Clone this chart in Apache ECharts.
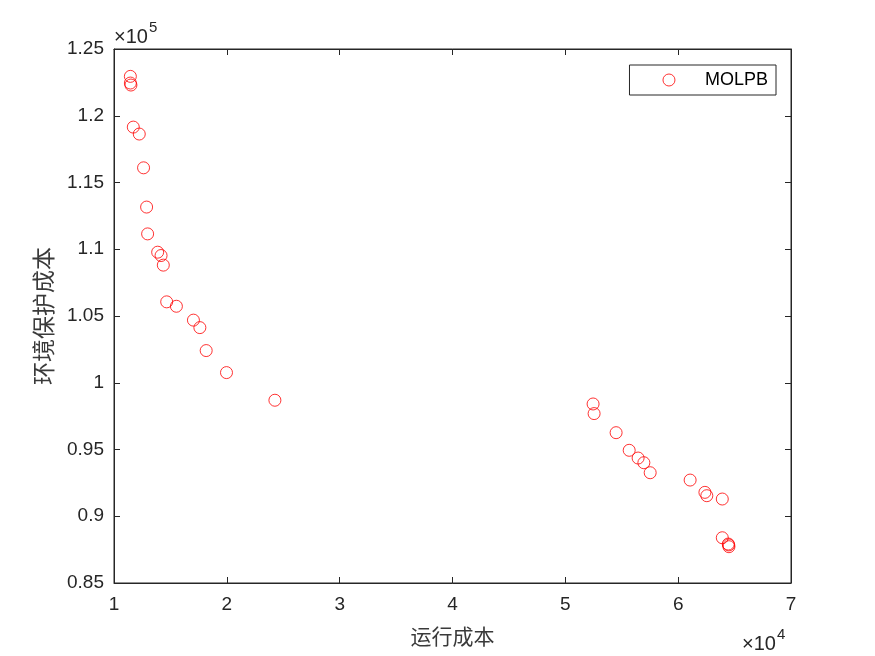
<!DOCTYPE html>
<html><head><meta charset="utf-8">
<script src="https://cdn.jsdelivr.net/npm/echarts@6/dist/echarts.min.js"></script>
<style>html,body{margin:0;padding:0;background:#fff}#c{width:875px;height:656px}</style>
</head><body><div id="c"></div>
<script>
// Operating cost (x) and environmental cost (y)
const runCost = [11450, 11450, 11500, 11710, 12240, 12620, 12890, 12980, 13870, 14170, 14370, 14670, 15530, 17040, 17610, 18170, 19970, 24260,
  52460, 52550, 54500, 55660, 56450, 56960, 57520, 61060, 62370, 62540, 63910, 63910, 64440, 64480, 64500];
const envCost = [122950, 122450, 122300, 119150, 118630, 116100, 113160, 111150, 109780, 109530, 108810, 106060, 105730, 104690, 104130, 102410, 100760, 98690,
  98410, 97690, 96260, 94940, 94360, 94010, 93260, 92710, 91790, 91540, 91290, 88390, 87920, 87850, 87720];
const xTicks = [1, 2, 3, 4, 5, 6, 7];
const yTicks = [0.85, 0.9, 0.95, 1, 1.05, 1.1, 1.15, 1.2, 1.25];
const seriesName = 'MOLPB';

const pts = runCost.map((x, i) => [x, envCost[i]]);
const axisColor = '#262626';
const font = 'Liberation Sans, Arial, Helvetica, sans-serif';
const cjk = 'Noto Sans CJK SC';
const fmtY = v => { const r = Math.round(v / 1e3) / 100; return String(r); };
const chart = echarts.init(document.getElementById('c'), null, {renderer: 'canvas'});
chart.setOption({
  animation: false,
  backgroundColor: '#fff',
  grid: {left: 114, top: 49, right: 84, bottom: 73, show: true, borderColor: axisColor, borderWidth: 1},
  xAxis: [{
    type: 'value', min: xTicks[0] * 1e4, max: xTicks[xTicks.length - 1] * 1e4, interval: 1e4,
    name: '运行成本', nameLocation: 'middle', nameGap: 43,
    nameTextStyle: {fontFamily: cjk, fontSize: 21, color: '#3a3a3a'},
    axisLine: {show: true, onZero: false, lineStyle: {color: axisColor}},
    axisTick: {show: true, inside: true, length: 6, lineStyle: {color: axisColor}},
    axisLabel: {formatter: v => String(Math.round(v / 1e4)), fontFamily: font, fontSize: 19, color: axisColor, margin: 12},
    splitLine: {show: false}
  }, {
    type: 'value', position: 'top', min: xTicks[0] * 1e4, max: xTicks[xTicks.length - 1] * 1e4, interval: 1e4,
    axisLine: {show: true, onZero: false, lineStyle: {color: axisColor}},
    axisTick: {show: true, inside: true, length: 6, lineStyle: {color: axisColor}},
    axisLabel: {show: false}, splitLine: {show: false}
  }],
  yAxis: [{
    type: 'value', min: yTicks[0] * 1e5, max: yTicks[yTicks.length - 1] * 1e5, interval: 5000,
    name: '环境保护成本', nameLocation: 'middle', nameGap: 59,
    nameTextStyle: {fontFamily: cjk, fontSize: 23, color: '#3a3a3a'},
    axisLine: {show: true, onZero: false, lineStyle: {color: axisColor}},
    axisTick: {show: true, inside: true, length: 6, lineStyle: {color: axisColor}},
    axisLabel: {formatter: fmtY, fontFamily: font, fontSize: 19, color: axisColor, margin: 10},
    splitLine: {show: false}
  }, {
    type: 'value', position: 'right', min: yTicks[0] * 1e5, max: yTicks[yTicks.length - 1] * 1e5, interval: 5000,
    axisLine: {show: true, onZero: false, lineStyle: {color: axisColor}},
    axisTick: {show: true, inside: true, length: 6, lineStyle: {color: axisColor}},
    axisLabel: {show: false}, splitLine: {show: false}
  }],
  legend: {
    show: true, data: [{name: seriesName, icon: 'circle', itemStyle: {color: 'rgba(0,0,0,0)', borderColor: '#ff0000', borderWidth: 1}}],
    right: 99, top: 65,
    orient: 'vertical', itemWidth: 12, itemHeight: 12, itemGap: 0,
    padding: [6, 8, 6, 33], borderColor: '#262626', borderWidth: 1, backgroundColor: '#fff',
    textStyle: {fontFamily: font, fontSize: 18, color: '#000', padding: [0, 0, 0, 25]}
  },
  graphic: [
    {type: 'text', left: 114, top: 27, style: {text: '×10', font: '20px ' + font, fill: axisColor}},
    {type: 'text', left: 149, top: 20, style: {text: '5', font: '15px ' + font, fill: axisColor}},
    {type: 'text', left: 742, top: 634, style: {text: '×10', font: '20px ' + font, fill: axisColor}},
    {type: 'text', left: 777, top: 627, style: {text: '4', font: '15px ' + font, fill: axisColor}}
  ],
  series: [{
    name: seriesName, type: 'scatter', data: pts, xAxisIndex: 0, yAxisIndex: 0,
    symbol: 'circle', symbolSize: 12,
    itemStyle: {color: 'rgba(0,0,0,0)', borderColor: '#ff0000', borderWidth: 1}
  }]
});
</script></body></html>
